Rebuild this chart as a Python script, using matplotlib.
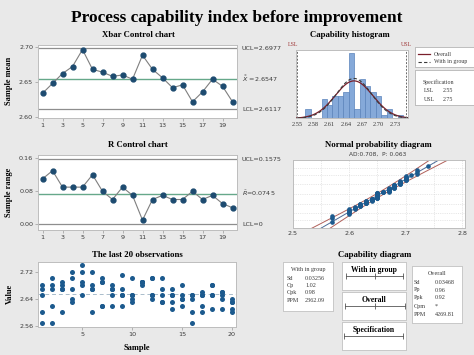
import numpy as np
import matplotlib
matplotlib.use('Agg')
import matplotlib.pyplot as plt
from matplotlib.transforms import blended_transform_factory
from statistics import NormalDist

plt.rcParams['mathtext.fontset'] = 'dejavusans'

# ---------------- data ----------------
samples = list(range(1, 21))
obs = [
    [2.68, 2.67, 2.65, 2.60, 2.57],
    [2.70, 2.68, 2.67, 2.62, 2.57],
    [2.69, 2.68, 2.67, 2.67, 2.60],
    [2.72, 2.70, 2.67, 2.64, 2.63],
    [2.74, 2.72, 2.69, 2.68, 2.65],
    [2.72, 2.68, 2.67, 2.67, 2.60],
    [2.70, 2.69, 2.69, 2.62, 2.62],
    [2.68, 2.67, 2.67, 2.65, 2.62],
    [2.71, 2.67, 2.65, 2.65, 2.62],
    [2.70, 2.65, 2.65, 2.64, 2.63],
    [2.69, 2.69, 2.69, 2.69, 2.68],
    [2.70, 2.70, 2.65, 2.65, 2.64],
    [2.70, 2.67, 2.65, 2.63, 2.63],
    [2.67, 2.65, 2.65, 2.63, 2.61],
    [2.68, 2.65, 2.64, 2.64, 2.62],
    [2.65, 2.65, 2.64, 2.60, 2.57],
    [2.66, 2.65, 2.65, 2.62, 2.60],
    [2.68, 2.68, 2.65, 2.65, 2.61],
    [2.66, 2.66, 2.65, 2.64, 2.61],
    [2.64, 2.63, 2.63, 2.61, 2.60],
]
xbar_ucl, xbar_cl, xbar_lcl = 2.6977, 2.6547, 2.6117
r_ucl, r_cl, r_lcl = 0.1575, 0.0745, 0.0
LSL, USL = 2.55, 2.75
sd_within, sd_overall = 0.03256, 0.03468
within_stats = [("Sd", "0.03256"), ("Cp", "1.02"), ("Cpk", "0.98"), ("PPM", "2362.09")]
overall_stats = [("Sd", "0.03468"), ("Pp", "0.96"), ("Ppk", "0.92"), ("Cpm", "*"), ("PPM", "4269.81")]
hist_ticks = [2.55, 2.58, 2.61, 2.64, 2.67, 2.70, 2.73]
ad_text = "AD:0.708,  P: 0.063"

obs_arr = np.array(obs)
xbar = obs_arr.mean(axis=1)
rng = obs_arr.max(axis=1) - obs_arr.min(axis=1)
allv = obs_arr.ravel()

# ---------------- style ----------------
W, H = 474, 355
BG = '#e9e9e9'
SERIF = ['Liberation Serif', 'DejaVu Serif']
SANS = ['DejaVu Sans']
NAVY = '#1d4b70'
DOT = '#1c5a8e'
SPINE = '#bdbdbd'
TXT = '#3a3a3a'
TICKFS = 4.6

fig = plt.figure(figsize=(W / 100, H / 100), dpi=100, facecolor=BG)


def pax(l, t, r, b):
    return fig.add_axes([l / W, 1 - b / H, (r - l) / W, (b - t) / H])


def ftext(x, y, s, **kw):
    return fig.text(x / W, 1 - y / H, s, **kw)


def style(ax):
    ax.set_facecolor('white')
    for sp in ax.spines.values():
        sp.set_color(SPINE)
        sp.set_linewidth(0.7)
    ax.tick_params(labelsize=TICKFS, length=2, width=0.5, color='#9a9a9a',
                   labelcolor=TXT, pad=1.5)
    for lab in ax.get_xticklabels() + ax.get_yticklabels():
        lab.set_family(SANS)


def bold_title(x, y, s, fs=6.3):
    ftext(x, y, s, ha='center', va='center', fontsize=fs, fontweight='bold', family=SERIF)


ftext(237, 17.5, 'Process capability index before improvement', ha='center', va='center',
      fontsize=12.4, fontweight='bold', family=SERIF)

# ---------------- Xbar chart ----------------
ax1 = pax(38, 45, 237, 118)
ax1.axhline(xbar_ucl, color='#8e8e8e', lw=0.9)
ax1.axhline(xbar_lcl, color='#8e8e8e', lw=0.9)
ax1.axhline(xbar_cl, color='#66a88a', lw=1.0)
ax1.plot(samples, xbar, color='#7f7f7f', lw=0.8, marker='o', ms=3.5, mfc=NAVY, mec=NAVY, zorder=3)
ax1.set_xlim(0.55, 20.45)
ax1.set_ylim(2.599, 2.7025)
ax1.set_xticks(samples[::2])
ax1.set_yticks([2.60, 2.65, 2.70])
ax1.set_yticklabels(['2.60', '2.65', '2.70'])
style(ax1)
tr1 = blended_transform_factory(ax1.transAxes, ax1.transData)
ax1.text(1.025, xbar_ucl, 'UCL=%.4f' % xbar_ucl, transform=tr1, fontsize=TICKFS, color=TXT, va='center', family=SANS)
ax1.text(1.025, xbar_cl, r'$\bar{\bar{X}}$' + ' =%.4f' % xbar_cl, transform=tr1, fontsize=TICKFS, color=TXT, va='center', family=SANS)
ax1.text(1.025, xbar_lcl, 'LCL=%.4f' % xbar_lcl, transform=tr1, fontsize=TICKFS, color=TXT, va='center', family=SANS)
bold_title(138, 35, 'Xbar Control chart')
ftext(9, 81, 'Sample mean', rotation=90, ha='center', va='center', fontsize=6, fontweight='bold', family=SERIF)

# ---------------- R chart ----------------
ax2 = pax(38, 155, 237, 230)
ax2.axhline(r_ucl, color='#8e8e8e', lw=0.9)
ax2.axhline(r_lcl, color='#8e8e8e', lw=0.9)
ax2.axhline(r_cl, color='#66a88a', lw=1.0)
ax2.plot(samples, rng, color='#7f7f7f', lw=0.8, marker='o', ms=3.5, mfc=NAVY, mec=NAVY, zorder=3)
ax2.set_xlim(0.55, 20.45)
ax2.set_ylim(-0.014, 0.168)
ax2.set_xticks(samples[::2])
ax2.set_yticks([0.0, 0.08, 0.16])
ax2.set_yticklabels(['0.00', '0.08', '0.16'])
style(ax2)
tr2 = blended_transform_factory(ax2.transAxes, ax2.transData)
ax2.text(1.025, r_ucl, 'UCL=%.4f' % r_ucl, transform=tr2, fontsize=TICKFS, color=TXT, va='center', family=SANS)
ax2.text(1.025, r_cl, r'$\bar{R}$' + '=%.4f' % r_cl, transform=tr2, fontsize=TICKFS, color=TXT, va='center', family=SANS)
ax2.text(1.025, r_lcl, 'LCL=0', transform=tr2, fontsize=TICKFS, color=TXT, va='center', family=SANS)
bold_title(138, 145, 'R Control chart')
ftext(9, 192, 'Sample range', rotation=90, ha='center', va='center', fontsize=6, fontweight='bold', family=SERIF)

# ---------------- last 20 observations ----------------
ax3 = pax(38.3, 261.7, 235.7, 327.3)
for s, vals in zip(samples, obs):
    ax3.scatter([s] * len(vals), vals, s=13, color=DOT, zorder=3, linewidths=0)
ax3.axhline(xbar_cl, color='#a9bccb', lw=0.7, ls=(0, (4, 3)))
ax3.set_xlim(0.6, 20.4)
ax3.set_ylim(2.556, 2.7495)
ax3.set_xticks([5, 10, 15, 20])
ax3.set_yticks([2.56, 2.64, 2.72])
ax3.set_yticklabels(['2.56', '2.64', '2.72'])
style(ax3)
bold_title(137, 255, 'The last 20 observations')
ftext(137, 347.5, 'Sample', ha='center', va='center', fontsize=6, fontweight='bold', family=SERIF)
ftext(10, 294, 'Value', rotation=90, ha='center', va='center', fontsize=6, fontweight='bold', family=SERIF)

# ---------------- capability histogram ----------------
ax4 = pax(296, 50, 407.7, 118.3)
edges = np.round(np.arange(2.565, 2.7451, 0.01), 3)
ax4.hist(allv, bins=edges, color='#85a9d9', edgecolor='#5a83bb', linewidth=0.5, zorder=2)
xx = np.linspace(LSL - 0.01, USL + 0.01, 300)
binw = 0.01
ov = len(allv) * binw * np.exp(-0.5 * ((xx - xbar_cl) / sd_overall) ** 2) / (sd_overall * np.sqrt(2 * np.pi))
wi = len(allv) * binw * np.exp(-0.5 * ((xx - xbar_cl) / sd_within) ** 2) / (sd_within * np.sqrt(2 * np.pi))
ax4.plot(xx, ov, color='#7a1f2b', lw=0.9, zorder=3)
ax4.plot(xx, wi, color='#3a3a3a', lw=0.8, ls=(0, (3, 2)), zorder=3)
ax4.axvline(LSL, color='#6a6a6a', lw=0.7, ls=(0, (2, 1.5)), zorder=4)
ax4.axvline(USL, color='#6a6a6a', lw=0.7, ls=(0, (2, 1.5)), zorder=4)
ax4.set_xlim(2.548, 2.7535)
ax4.set_ylim(0, 21)
ax4.set_xticks(hist_ticks)
ax4.set_xticklabels(['%.2f' % t for t in hist_ticks])
ax4.set_yticks([])
style(ax4)
for lab in ax4.get_xticklabels():
    lab.set_family(SERIF)
    lab.set_fontsize(4.6)
ax4.tick_params(axis='x', length=0, pad=2.5)
bold_title(350, 35, 'Capability histogram')
ftext(293.5, 44.5, 'LSL', ha='center', va='center', fontsize=4.3, color='#a03a3a', family=SERIF)
ftext(406.5, 44.5, 'USL', ha='center', va='center', fontsize=4.3, color='#a03a3a', family=SERIF)

# legend boxes
axl = pax(415, 47, 480, 67)
axl.set_xlim(415, 480)
axl.set_ylim(67, 47)
axl.set_xticks([]); axl.set_yticks([])
style(axl)
axl.plot([418, 430], [54, 54], color='#7a1f2b', lw=0.9)
axl.plot([418, 430], [62, 62], color='#3a3a3a', lw=0.8, ls=(0, (3, 2)))
axl.text(434, 54, 'Overall', fontsize=4.2, va='center', family=SERIF, color=TXT)
axl.text(434, 62, 'With in group', fontsize=4.2, va='center', family=SERIF, color=TXT)

axs = pax(415, 70, 480, 105)
axs.set_xlim(415, 480)
axs.set_ylim(105, 70)
axs.set_xticks([]); axs.set_yticks([])
style(axs)
axs.text(438, 82, 'Specification', fontsize=4.2, va='center', ha='center', family=SERIF, color=TXT)
axs.text(424, 90.5, 'LSL', fontsize=4.2, va='center', family=SERIF, color=TXT)
axs.text(443, 90.5, '%.2f' % LSL, fontsize=4.2, va='center', family=SERIF, color=TXT)
axs.text(424, 99, 'USL', fontsize=4.2, va='center', family=SERIF, color=TXT)
axs.text(443, 99, '%.2f' % USL, fontsize=4.2, va='center', family=SERIF, color=TXT)

# ---------------- normal probability plot ----------------
ax5 = pax(292.7, 160, 465, 228)
xs = np.sort(allv)
n = len(xs)
nd = NormalDist()
zq = np.array([nd.inv_cdf((i + 1 - 0.3) / (n + 0.4)) for i in range(n)])
zz = np.linspace(-3.3, 3.3, 200)
fitx = xbar_cl + sd_overall * zz
se = sd_overall * np.sqrt(1.0 / n + zz ** 2 / (2 * (n - 1)))
ax5.plot(fitx - 1.96 * se, zz, color='#b0605a', lw=0.7, zorder=2)
ax5.plot(fitx + 1.96 * se, zz, color='#b0605a', lw=0.7, zorder=2)
ax5.plot(fitx, zz, color='#4a6a96', lw=0.7, zorder=2)
ax5.scatter(xs, zq, s=11, color=DOT, zorder=3, linewidths=0)
ax5.set_xlim(2.5, 2.805)
ax5.set_ylim(-3.0, 3.0)
ax5.set_xticks([2.5, 2.6, 2.7, 2.8])
ax5.set_xticklabels(['2.5', '2.6', '2.7', '2.8'])
ax5.set_xticks([2.55, 2.65, 2.75], minor=True)
ax5.set_yticks([nd.inv_cdf(p) for p in [0.01, 0.05, 0.2, 0.5, 0.8, 0.95, 0.99]])
ax5.set_yticklabels([])
style(ax5)
ax5.tick_params(axis='y', length=0)
ax5.tick_params(axis='x', which='both', length=0, pad=2.5)
ax5.grid(True, which='both', ls=(0, (2, 2)), lw=0.4, color='#d4d4d4', zorder=0)
bold_title(378, 145, 'Normal probability diagram')
ftext(378, 154.5, ad_text, ha='center', va='center', fontsize=4.2, color=TXT, family=SANS)

# ---------------- capability diagram ----------------
bold_title(375, 255, 'Capability diagram')


def stat_box(l, t, r, b, header, rows, hx, hy, lx, vx, ys):
    a = pax(l, t, r, b)
    a.set_xlim(l, r)
    a.set_ylim(b, t)
    a.set_xticks([]); a.set_yticks([])
    style(a)
    for sp in a.spines.values():
        sp.set_color('#c8c8c8')
    a.text(hx, hy, header, fontsize=4.4, ha='center', va='center', family=SERIF, color=TXT)
    for (k, v), y in zip(rows, ys):
        a.text(lx, y, k, fontsize=4.4, va='center', family=SERIF, color=TXT)
        a.text(vx, y, v, fontsize=4.4, va='center', family=SERIF, color=TXT)


stat_box(283.3, 261.7, 333.3, 311, 'With in group', within_stats, 308, 269.5, 286.5, 305,
         [278.3, 285.7, 292.9, 300.2])
stat_box(411.7, 265.7, 461.7, 323.3, 'Overall', overall_stats, 436.7, 273.5, 414, 435,
         [282.3, 290, 297.7, 306.5, 315])

intervals = [
    ('With in group', xbar_cl - 3 * sd_within, xbar_cl, xbar_cl + 3 * sd_within, True),
    ('Overall', xbar_cl - 3 * sd_overall, xbar_cl, xbar_cl + 3 * sd_overall, True),
    ('Specification', LSL, None, USL, False),
]
tops = [261.7, 291.7, 321.7]
for (name, lo, mid, hi, has_mid), top in zip(intervals, tops):
    a = pax(341.7, top, 406, top + 28.3)
    a.set_xlim(2.541, 2.761)
    a.set_ylim(0, 1)
    a.set_xticks([]); a.set_yticks([])
    style(a)
    for sp in a.spines.values():
        sp.set_color('#c8c8c8')
    a.text(0.5, 0.72, name, transform=a.transAxes, ha='center', va='center', fontsize=5.5,
           fontweight='bold', family=SERIF)
    a.plot([lo, hi], [0.5, 0.5], color='#555555', lw=0.6)
    pts = [lo, hi] + ([mid] if has_mid else [])
    a.plot(pts, [0.5] * len(pts), ls='none', marker='|', ms=4.5, mew=0.6, color='#555555')

fig.savefig('out.png', dpi=100, facecolor=BG)
